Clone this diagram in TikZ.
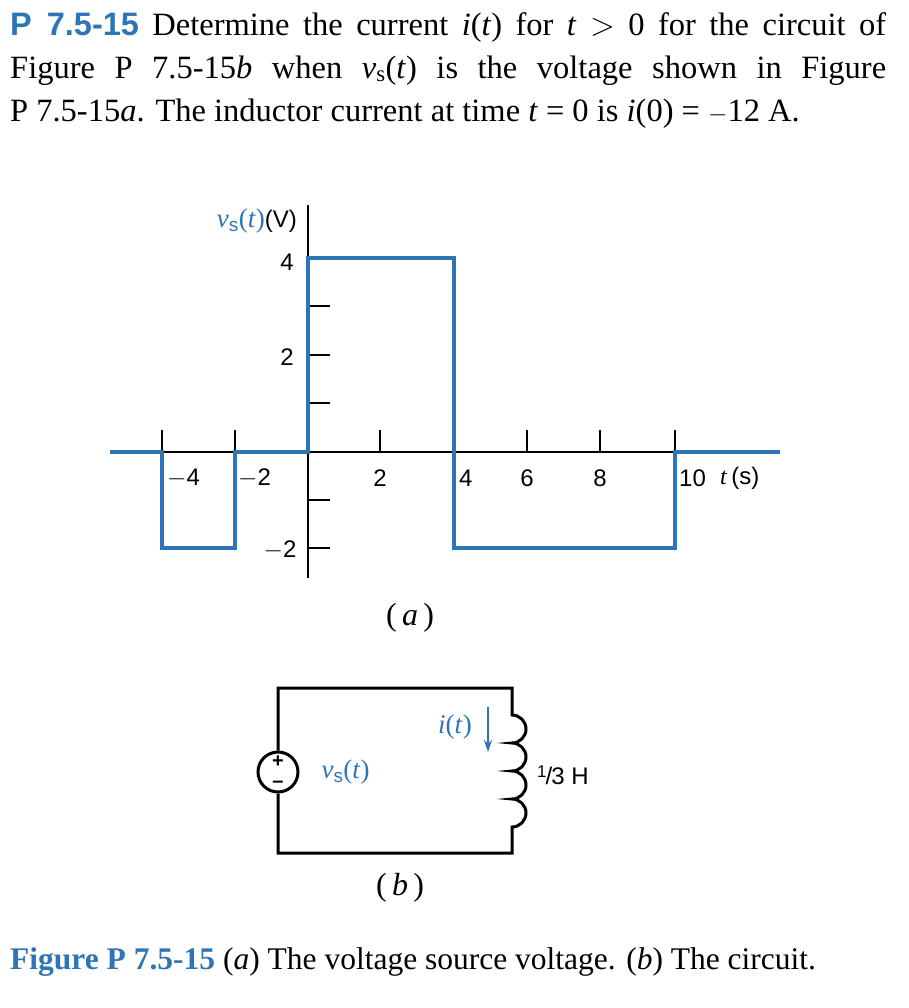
\documentclass[tikz,border=0pt]{standalone}
\usepackage{fontspec}
\usetikzlibrary{arrows.meta}
\setmainfont{Liberation Serif}
\setsansfont{Liberation Sans}
\definecolor{wblue}{HTML}{2E75B6}
\newcommand{\vsym}{\textit{v}\textsubscript{\textsf{s}}(\textit{t})}
\newcommand{\isym}{\textit{i}(\textit{t})}
\begin{document}
\begin{tikzpicture}[x=1pt,y=1pt,
  ax/.style={line width=1.6pt,black},
  wave/.style={line width=4pt,wblue},
  lbl/.style={font=\sffamily\fontsize{24}{24}\selectfont,inner sep=0pt},
  wire/.style={line width=3pt,black}]
\useasboundingbox (0,0) rectangle (908,-1008);
\node[anchor=north west,inner sep=0pt,text width=876pt,align=justify] (title) at (10,-12)
 {\fontsize{32.5}{43}\selectfont {\sffamily\bfseries\color{wblue}P 7.5-15} Determine the current \textit{i}(\textit{t}) for \textit{t} {\fontfamily{lmr}\selectfont >} 0 for the circuit of\linebreak Figure P 7.5-15\textit{b} when \textit{v}\textsubscript{s}(\textit{t}) is the voltage shown in Figure\linebreak P 7.5-15\textit{a}. The inductor current at time \textit{t} = 0 is \textit{i}(0) = $-$12 A.\par};
% axes
\draw[ax] (308,-205) -- (308,-578);
\draw[ax] (110,-452) -- (780,-452);
\foreach \y in {306,355,403,500,548} \draw[ax] (308,-\y) -- (330,-\y);
\foreach \x in {162,235,380,454,527,600,675} \draw[ax] (\x,-452) -- (\x,-430);
\node[lbl] (l4) at (287,-262) {4};
\node[lbl] (l2) at (287,-357) {2};
\node[lbl] (lm2) at (280,-550) {$-$2};
\node[lbl,anchor=west] (xm4) at (167,-478) {$-$4};
\node[lbl,anchor=west] (xm2) at (238,-478) {$-$2};
\node[lbl] (x2) at (380,-478) {2};
\node[lbl,anchor=west] (x4) at (459,-478) {4};
\node[lbl] (x6) at (527,-478) {6};
\node[lbl] (x8) at (600,-478) {8};
\node[lbl,anchor=west] (x10) at (679,-478) {10};
\node[lbl,anchor=west] (xt) at (720,-478) {{\rmfamily\textit{t}}\,(s)};
\node[lbl,anchor=east] (yl) at (297,-221) {{\rmfamily\fontsize{27}{27}\selectfont\color{wblue}\vsym}(V)};
\draw[wave] (110,-452) -- (162,-452) -- (162,-548) -- (235,-548) -- (235,-452) -- (308,-452) -- (308,-258) -- (454,-258) -- (454,-548) -- (675,-548) -- (675,-452) -- (780,-452);
\node[font=\fontsize{32}{32}\selectfont] (a) at (410,-618) {(\,\textit{a}\,)};
% circuit
\node[draw,circle,line width=3pt,minimum size=40pt,inner sep=0pt] (src) at (278,-772) {};
\node[inner sep=0pt,font=\sffamily\bfseries\fontsize{20}{20}\selectfont] (pl) at (278,-762) {+};
\node[inner sep=0pt,font=\sffamily\bfseries\fontsize{20}{20}\selectfont] (mi) at (278,-784) {--};
\coordinate (tl) at (278,-688);
\coordinate (tr) at (512,-688);
\coordinate (bl) at (278,-853);
\coordinate (br) at (512,-853);
\draw[wire,line join=miter] (src.north) -- (tl) -- (tr) -- (512,-715)
  arc[start angle=90,end angle=-90,radius=14]
  arc[start angle=90,end angle=-90,radius=14]
  arc[start angle=90,end angle=-90,radius=14]
  arc[start angle=90,end angle=-90,radius=14] -- (br) -- (bl) -- (src.south);
\coordinate (ia) at (488,-707);
\coordinate (ib) at (488,-752);
\draw[line width=2pt,wblue,-{Stealth[length=12pt,width=8pt]}] (ia) -- (ib);
\node[wblue,font=\fontsize{27}{27}\selectfont] (it) at (455,-727) {\isym};
\node[wblue,font=\fontsize{27}{27}\selectfont,anchor=west] (vs) at (318,-772) {\vsym};
\node[lbl,anchor=west] (L) at (537,-775) {\raisebox{7pt}{\fontsize{17}{17}\selectfont 1}\kern-1pt/\kern-1pt3 H};
\node[font=\fontsize{32}{32}\selectfont] (b) at (400,-888) {(\,\textit{b}\,)};
\node[anchor=west,inner sep=0pt,font=\fontsize{31.5}{32}\selectfont] (cap) at (10,-962)
 {{\bfseries\color{wblue}Figure P 7.5-15} (\textit{a}) The voltage source voltage. (\textit{b}) The circuit.};
\end{tikzpicture}
\end{document}
